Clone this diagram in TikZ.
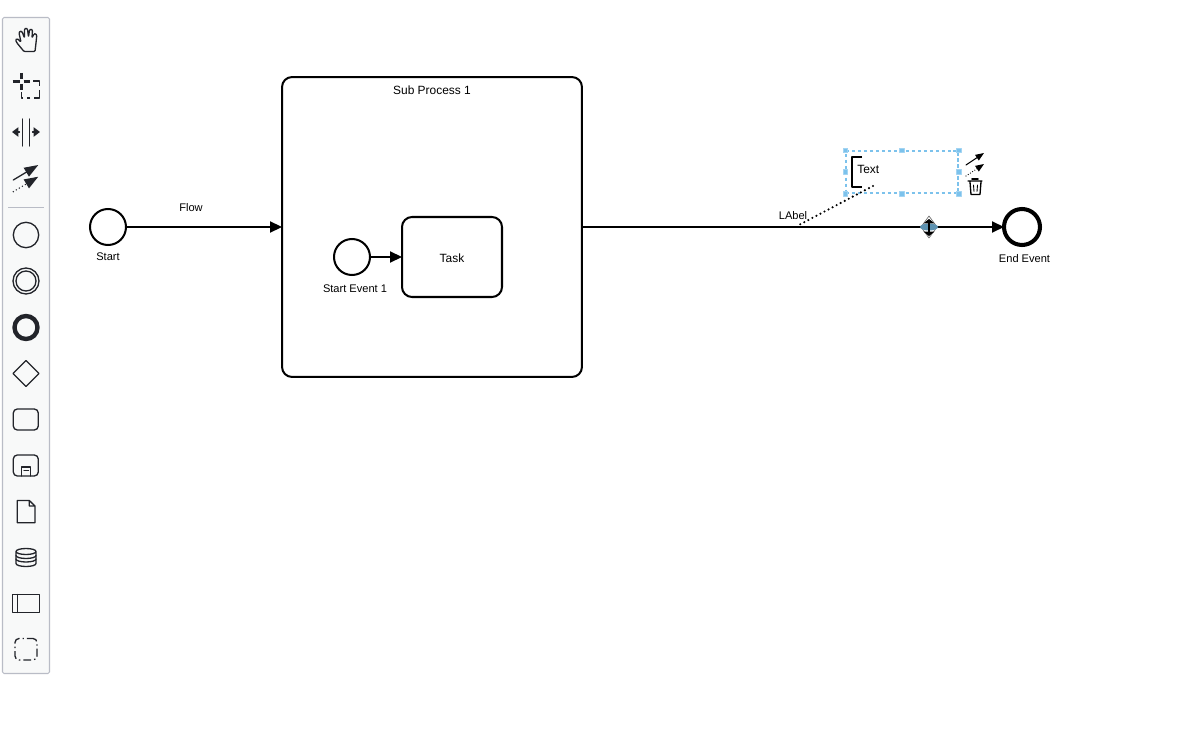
\documentclass[tikz,border=0pt]{standalone}
\usepackage{fontspec}
\setmainfont{Liberation Sans}
\usetikzlibrary{arrows.meta}
\definecolor{palfill}{HTML}{F8F9F9}
\definecolor{palline}{HTML}{B9BCC6}
\definecolor{ink}{HTML}{22242A}
\definecolor{selblue}{HTML}{7CC2EC}
\tikzset{
	event/.style={circle,draw,line width=1.15pt,minimum size=0.72cm,inner sep=0pt,outer sep=0pt,fill=white},
	endevent/.style={event,line width=2.3pt},
	activity/.style={draw,line width=1.15pt,rounded corners=0.2cm,inner sep=0pt,outer sep=0pt},
	flow/.style={draw,line width=1.15pt,-{Triangle[length=0.24cm,width=0.22cm]}},
	assoc/.style={draw,line width=1.35pt,line cap=round,dash pattern=on 0pt off 2.6pt},
	lbl/.style={font=\fontsize{6.3}{7}\selectfont,inner sep=0pt},
	icon/.style={draw=ink,line width=0.75pt,line join=round,line cap=round},
	handle/.style={fill=selblue,inner sep=0pt,minimum size=0.09cm,draw=selblue!70,line width=0.3pt},
}
\begin{document}
\begin{tikzpicture}[x=0.02cm,y=-0.02cm,line join=round,>=stealth]
	\useasboundingbox (0,0) rectangle (1178,750);
	\fill[white] (0,0) rectangle (1178,750);
	\draw[palline,fill=palfill,line width=0.6pt,rounded corners=0.03cm] (2.5,17.5) rectangle (49.5,673.5);
	\draw[palline,line width=0.6pt] (8,207.5)--(44,207.5);
	\draw[icon,rounded corners=0.02cm] (24,51.5)--(17,43)--(15.5,40)--(17,38.5)--(21,42)--(19,33)--(20,31)--(22,31.5)--(24.5,38)--(24.5,29)--(26,28)--(27.5,29)--(28.5,37)--(29.5,30)--(31,29)--(32.5,30)--(32,38)--(34,34)--(35.5,33.5)--(36.8,35)--(36,43)--(35,51.5)--cycle;
	\draw[icon,line width=1.9pt,line cap=butt] (12.7,81.5)--(19.5,81.5) (23.5,81.5)--(30,81.5) (21.7,73)--(21.7,79) (21.7,84)--(21.7,90);
	\draw[icon,line cap=butt] (33,81)--(39.3,81)--(39.3,86) (39.3,90)--(39.3,98)--(34,98) (30,98)--(27,98) (22.5,98)--(21.7,98)--(21.7,92.5);
	\draw[icon] (22.7,119)--(22.7,146) (29.3,119)--(29.3,146);
	\draw[icon,-{Triangle[length=0.13cm,width=0.19cm]}] (19.5,132)--(12,132);
	\draw[icon,-{Triangle[length=0.13cm,width=0.19cm]}] (32.5,132)--(40,132);
	\draw[icon,-{Triangle[length=0.28cm,width=0.2cm]}] (13.3,180)--(38.3,165);
	\draw[icon,line width=0.9pt,dash pattern=on 0pt off 2pt,-{Triangle[length=0.28cm,width=0.2cm]}] (13.3,191.7)--(38.3,176.7);
	\draw[icon] (26,235) circle (12.7);
	\draw[icon] (26,281) circle (13) (26,281) circle (10);
	\draw[icon,line width=2.5pt] (26,327.5) circle (11.5);
	\draw[icon] (26,360.5)--(39,373.5)--(26,386.5)--(13,373.5)--cycle;
	\draw[icon,rounded corners=0.08cm] (13.3,409) rectangle (38.3,430);
	\draw[icon,rounded corners=0.08cm] (13.3,455) rectangle (38.3,476);
	\draw[icon] (21.7,476)--(21.7,467)--(30.7,467)--(30.7,476) (24,470.5)--(28.5,470.5);
	\draw[icon] (29.3,500.5)--(17.3,500.5)--(17.3,522.7)--(35,522.7)--(35,506)--cycle (29.3,500.5)--(29.3,506)--(35,506);
	\draw[icon] (16,551.5) arc[start angle=180,end angle=0,x radius=10,y radius=3] arc[start angle=0,end angle=-180,x radius=10,y radius=3]--(16,563.5) arc[start angle=180,end angle=0,x radius=10,y radius=3]--(36,551.5);
	\draw[icon] (16,555.5) arc[start angle=180,end angle=0,x radius=10,y radius=3] (16,559) arc[start angle=180,end angle=0,x radius=10,y radius=3];
	\draw[icon] (12.7,594.5) rectangle (39.3,612.5) (17.3,594.5)--(17.3,612.5);
	\draw[icon,rounded corners=0.08cm,line cap=butt,dash pattern=on 4.5pt off 1.7pt on 0.8pt off 1.7pt] (26,638.5)--(37,638.5)--(37,660)--(15,660)--(15,638.5)--cycle;

	\node[event] (start) at (108,227) {};
	\node[lbl] (startlabel) at (108,257) {Start};
	\node[activity,minimum width=6cm,minimum height=6cm] (subprocess) at (432,227) {};
	\node[lbl,font=\fontsize{6.8}{8}\selectfont] (sublabel) at (432,90) {Sub Process 1};
	\node[event] (substart) at (352,257) {};
	\node[lbl] (substartlabel) at (355,289) {Start Event 1};
	\node[activity,minimum width=2cm,minimum height=1.6cm] (task) at (452,257) {};
	\node[lbl,font=\fontsize{6.8}{8}\selectfont] (tasklabel) at (452,258) {Task};
	\node[endevent] (end) at (1022,227) {};
	\node[lbl] (endlabel) at (1024.5,259) {End Event};
	\node[lbl] (flowlabel) at (191,208) {Flow};
	\node[lbl] (assoclabel) at (793,216) {LAbel};
	\draw[flow] (start)--(subprocess.west);
	\draw[flow] (substart)--(task.west);
	\draw[flow] (subprocess.east)--(end);

	\node[draw=selblue,line width=0.85pt,dash pattern=on 1.8pt off 1.6pt,minimum width=2.24cm,minimum height=0.84cm,inner sep=0pt] (annot) at (902,172) {};
	\foreach \a/\n in {north west/nw,north/nn,north east/ne,east/ee,south east/se,south/ss,south west/sw,west/ww}
		\node[handle] (h\n) at (annot.\a) {};
	\node[lbl,font=\fontsize{6.8}{8}\selectfont,anchor=west] (annotlabel) at (857,169.5) {Text};
	\draw[line width=1.15pt] (862,157)--(852,157)--(852,187)--(862,187);
	\coordinate (assocfrom) at (873,186);
	\coordinate (assocto) at (797,226);
	\draw[assoc] (assocfrom)--(assocto);

	\draw[icon,line width=0.6pt,draw=black,-{Triangle[length=0.17cm,width=0.13cm]}] (966,165)--(984,153);
	\draw[icon,line width=0.7pt,draw=black,dash pattern=on 0pt off 1.5pt,-{Triangle[length=0.17cm,width=0.13cm]}] (966,176)--(984,164);
	\draw[icon,draw=black] (970,182)--(971,194.5)--(980,194.5)--(981,182) (968,181)--(982,181);
	\draw[icon,draw=black,line width=1.1pt] (972,179.2)--(978,179.2);
	\draw[icon,draw=black,line width=0.5pt] (973.5,185)--(974,191.5) (977.5,185)--(977,191.5);

	\draw[black!55,line width=0.4pt,fill=white] (929,216)--(937,227)--(929,238)--(921,227)--cycle;
	\fill[selblue!75!black] (929,227) ellipse (9 and 3.5);
	\draw[line width=1.7pt,{Triangle[length=0.09cm,width=0.22cm]}-{Triangle[length=0.09cm,width=0.22cm]}] (929,219)--(929,236);
\end{tikzpicture}
\end{document}
